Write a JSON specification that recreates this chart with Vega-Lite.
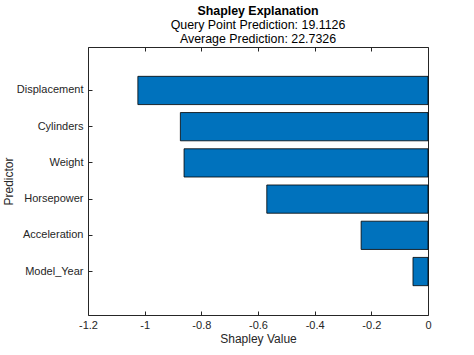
{
  "$schema": "https://vega.github.io/schema/vega-lite/v6.json",
  "width": 340,
  "height": 268,
  "autosize": "none",
  "padding": {"left": 88, "top": 47, "right": 46, "bottom": 40},
  "background": "white",
  "config": {
    "font": "Liberation Sans",
    "view": {"stroke": "#262626", "strokeWidth": 1},
    "axis": {"grid": false, "domain": false, "labelColor": "#262626", "titleColor": "#262626", "tickColor": "#262626", "labelFont": "Liberation Sans", "titleFont": "Liberation Sans", "labelFontSize": 11, "titleFontSize": 12, "titleFontWeight": "normal"}
  },
  "title": {
    "text": "Shapley Explanation",
    "subtitle": ["Query Point Prediction: 19.1126", "Average Prediction: 22.7326"],
    "anchor": "middle",
    "fontSize": 12.4,
    "fontWeight": "bold",
    "color": "#000000",
    "subtitleFontSize": 12.4,
    "subtitleColor": "#000000",
    "subtitleFont": "Liberation Sans",
    "subtitlePadding": 2,
    "subtitleLineHeight": 14,
    "offset": 1
  },
  "data": {"values": [
    {"Predictor": "Displacement", "Value": -1.024},
    {"Predictor": "Cylinders", "Value": -0.874},
    {"Predictor": "Weight", "Value": -0.861},
    {"Predictor": "Horsepower", "Value": -0.569},
    {"Predictor": "Acceleration", "Value": -0.236},
    {"Predictor": "Model_Year", "Value": -0.053}
  ]},
  "resolve": {"axis": {"x": "independent", "y": "independent"}},
  "layer": [
    {
      "mark": {"type": "bar", "color": "#0072BD", "stroke": "#000000", "strokeWidth": 0.8},
      "encoding": {
        "y": {"field": "Predictor", "type": "nominal", "sort": null,
              "scale": {"paddingInner": 0.22, "paddingOuter": 0.81},
              "axis": {"orient": "left", "title": "Predictor", "tickSize": -4, "labelPadding": 9, "titlePadding": 1}},
        "x": {"field": "Value", "type": "quantitative",
              "scale": {"domain": [-1.2, 0], "nice": false, "zero": false},
              "axis": {"orient": "bottom", "title": "Shapley Value", "values": [-1.2, -1, -0.8, -0.6, -0.4, -0.2, 0], "labelExpr": "replace(format(datum.value, '~g'), '\u2212', '-')", "tickSize": -4, "labelPadding": 8, "titlePadding": 3, "labelFlush": false}},
        "x2": {"datum": 0}
      }
    },
    {
      "mark": {"type": "bar", "opacity": 0},
      "encoding": {
        "y": {"field": "Predictor", "type": "nominal", "sort": null,
              "axis": {"orient": "right", "title": null, "labels": false, "tickSize": -4}},
        "x": {"field": "Value", "type": "quantitative",
              "axis": {"orient": "top", "title": null, "labels": false, "values": [-1.2, -1, -0.8, -0.6, -0.4, -0.2, 0], "tickSize": -4}},
        "x2": {"datum": 0}
      }
    }
  ]
}
